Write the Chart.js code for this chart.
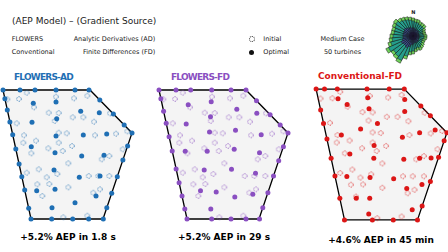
<!DOCTYPE html>
<html>
<head>
<meta charset="utf-8">
<script src="https://cdn.jsdelivr.net/npm/chart.js@4.4.1/dist/chart.umd.min.js"></script>
<style>
  html, body { margin: 0; padding: 0; background: #fff; }
  body { width: 448px; height: 252px; position: relative; overflow: hidden; font-family: 'DejaVu Sans', sans-serif; color: #1a1a1a; }
  .t { position: absolute; white-space: nowrap; }
  .hdr { font-size: 9px; line-height: 11px; }
  .sm { font-size: 6.5px; line-height: 8px; }
  .ttl { font-size: 9px; line-height: 11px; font-weight: bold; }
  .caps { letter-spacing: -0.8px; }
  .cap { font-size: 9px; line-height: 11px; font-weight: bold; color: #000; width: 160px; text-align: center; }
  .mid { width: 100px; text-align: center; }
  canvas { position: absolute; }
  .mk { position: absolute; border-radius: 50%; }
</style>
</head>
<body>
<div class="t hdr" style="left:12px;top:15.5px">(AEP Model) – (Gradient Source)</div>
<div class="t sm" style="left:11.7px;top:34.7px">FLOWERS</div>
<div class="t sm" style="right:292.7px;top:34.7px">Analytic Derivatives (AD)</div>
<div class="t sm" style="left:11.7px;top:48.3px">Conventional</div>
<div class="t sm" style="right:292.7px;top:48.3px">Finite Differences (FD)</div>
<div class="mk" style="left:248.7px;top:36px;width:4px;height:4px;border:1px dotted #333"></div>
<div class="mk" style="left:249.2px;top:50.2px;width:5px;height:5px;background:#111"></div>
<div class="t sm" style="left:263.3px;top:34.7px">Initial</div>
<div class="t sm" style="left:263.3px;top:48.3px">Optimal</div>
<div class="t sm mid" style="left:292.5px;top:34.7px">Medium Case</div>
<div class="t sm mid" style="left:292.5px;top:48.3px">50 turbines</div>
<div class="t" style="left:403.3px;top:9.3px;width:20px;text-align:center;font-size:5px;line-height:6px;font-weight:bold">N</div>

<div class="t ttl caps" style="left:14px;top:71.5px;color:#1f6fb4">FLOWERS-AD</div>
<div class="t ttl caps" style="left:171px;top:71.5px;color:#8a4fc1">FLOWERS-FD</div>
<div class="t ttl" style="left:318px;top:71.2px;color:#dc1616">Conventional-FD</div>

<canvas id="panelAD" width="145" height="145" style="left:-5px;top:81.7px"></canvas>
<canvas id="panelFD" width="145" height="145" style="left:151px;top:82px"></canvas>
<canvas id="panelConv" width="147" height="147" style="left:308px;top:81.2px"></canvas>
<canvas id="rose" width="70" height="70" style="left:377.7px;top:1px"></canvas>

<div class="t cap" style="left:-12px;top:232px">+5.2% AEP in 1.8 s</div>
<div class="t cap" style="left:144px;top:231.5px">+5.2% AEP in 29 s</div>
<div class="t cap" style="left:301px;top:234.5px">+4.6% AEP in 45 min</div>

<script>
// farm boundary (closed), same for every panel
var boundaryX = [0, 87, 129, 100, 28, 0];
var boundaryY = [0, 0, 43, 129, 129, 0];

// initial layout, shared by all three panels
var initialX = [4.3, 16, 23.7, 53, 71, 84.3, 31, 45.7, 55.7, 51.7, 69.7, 80.3, 91, 107, 13.7, 55.7, 63.7, 21, 92, 113, 124.3, 33, 20.3, 55.7, 69, 45.3, 59.7, 119.7, 28.3, 98.7, 106.3, 65.3, 23.7, 35.7, 54.3, 43.7, 85.7, 95.3, 106.3, 34.3, 46.3, 65.3, 39.3, 90.3, 97, 60.3, 84.3];
var initialY = [9.3, 9, 2.7, 6.7, 8.3, 5.7, 17.3, 22.7, 23, 31, 27.3, 27.3, 31.7, 23.3, 33.3, 42.7, 43.3, 45.3, 45.3, 43.7, 41.3, 50.7, 52.7, 52.7, 56, 58.3, 61, 59.3, 63.3, 69.3, 66, 73.3, 82.7, 79.3, 84, 87.3, 86, 86, 86, 94.3, 94, 97.3, 106, 102.7, 99.3, 127.3, 125.7];

// optimal layouts
var adX = [0, 17, 32, 53, 72, 86, 1.9, 4.3, 6.9, 9.7, 12.8, 16.1, 18.8, 21.7, 25.7, 28, 48.7, 69.7, 85.7, 100.3, 103.8, 108.7, 114.3, 119.9, 124.6, 129, 96.8, 110.4, 121.2, 30.3, 53, 77.7, 96.3, 53.7, 29, 80.3, 103.7, 53, 28.3, 52, 78.7, 101, 51, 76.3, 97, 52, 33.7, 93, 72, 49];
var adY = [0, 0, 0, 0, 0, 0, 8.7, 20, 32, 44.7, 59, 74, 86.7, 100, 118.3, 129, 129, 129, 129, 129, 117.7, 103.3, 86.7, 70, 56, 43, 10, 24, 35, 13.3, 12, 21.3, 22.7, 28.7, 32.3, 45, 44, 46, 56.7, 62.7, 66, 65.3, 80, 87.3, 86, 99.3, 100.7, 106, 112.7, 117.7];

var fdX = [0, 17, 31.7, 52.7, 72, 87, 1.9, 4.6, 7.2, 10.1, 13.2, 17.1, 20.1, 23, 25.8, 28, 52.7, 72, 87, 100.5, 103.8, 108.9, 114.5, 119.7, 124.4, 129, 97.5, 111.1, 121.2, 29.2, 52.2, 77.8, 97.8, 51.5, 27.2, 76.5, 50.5, 102.2, 26.2, 48.2, 75.2, 100.5, 45.2, 72.5, 96.5, 41.5, 57.2, 93.8, 75.8, 51.8];
var fdY = [0, 0, 0, 0, 0, 0, 8.7, 21.3, 33.3, 46.7, 61, 79, 92.7, 106, 119, 129, 129, 129, 129, 129, 117.7, 102.7, 86, 70.7, 56.7, 43, 10.7, 24.7, 35, 14.7, 11.7, 19.3, 23.3, 26.7, 34, 40.3, 42, 44.7, 61.3, 61.3, 59.3, 62.7, 80, 79.3, 83.3, 100.7, 102, 104.3, 107, 119];

var convX = [0, 8.3, 20.9, 50.2, 72.1, 87, 4.5, 7.3, 10.7, 14.8, 18.6, 23.4, 28, 55.5, 76.1, 100, 103.3, 112.7, 129, 126.3, 120.8, 112.7, 104.6, 21.6, 30.6, 50.9, 52.2, 87.4, 87.4, 60.5, 43.9, 24.9, 85.1, 102.1, 117.4, 57.2, 33.3, 56.9, 86.5, 102.1, 113.4, 30.3, 53.2, 76.5, 104.4, 89.4, 39.6, 52.9, 94.8, 51.9];
var convY = [0, 0, 0, 0, 0, 0, 20.7, 33.8, 49.2, 68.3, 85.7, 107.6, 129, 129, 129, 129, 16.7, 26.3, 43, 51, 67.3, 91.2, 115.2, 9.5, 15.1, 8.5, 19.4, 10.2, 22, 33.8, 39.4, 45.3, 47.6, 43, 40.4, 55.5, 64, 68.3, 69.3, 68.3, 67.9, 86.3, 87.3, 88.3, 94.2, 98.1, 107.6, 107.6, 119.1, 123.1];

// wind rose, 36 sectors from N clockwise (cumulative bands)
var roseDirections = ['0', '10', '20', '30', '40', '50', '60', '70', '80', '90', '100', '110', '120', '130', '140', '150', '160', '170', '180', '190', '200', '210', '220', '230', '240', '250', '260', '270', '280', '290', '300', '310', '320', '330', '340', '350'];
var roseCalm = [4, 4, 4, 4, 4, 4, 4, 4, 4, 4, 4, 4, 4, 4, 4, 4, 4, 4, 4, 4, 4, 4, 4, 4, 4, 4, 4, 4, 4, 4, 4, 4, 4, 4, 4, 4];
var roseInner = [8, 8, 7, 7, 7, 7, 6, 6, 6, 6, 6, 6, 6, 7, 7, 7, 7, 7, 8, 9, 11, 13, 12, 12, 13, 11, 10, 10, 10, 10, 10, 11, 10, 9, 9, 8];
var roseMid = [15, 14, 14, 13, 13, 13, 11, 10, 10, 11, 11, 10, 10, 11, 12, 13, 12, 13, 15, 16, 21, 27, 25, 24, 27, 23, 21, 20, 19, 19, 20, 21, 19, 18, 17, 16];
var roseOuter = [18, 17, 17, 16, 16, 16, 14, 13, 13, 14, 14, 13, 13, 14, 15, 16, 15, 16, 18, 19, 24, 30, 28, 27, 30, 26, 24, 23, 22, 22, 23, 24, 22, 21, 20, 19];

var LayoutFigure =
{
    init: function()
    {
        this.drawPanel('panelAD', '#1f6fb4', adX, adY);
        this.drawPanel('panelFD', '#8a4fc1', fdX, fdY);
        this.drawPanel('panelConv', '#dc1616', convX, convY);
        this.drawRose();
    },

    toPoints: function(xs, ys)
    {
        var pts = [];
        for (var i = 0; i < xs.length; i++) {
            pts.push({x: xs[i], y: ys[i]});
        }
        return pts;
    },

    //dashed hollow circle used for the initial turbines
    ringMarker: function(color)
    {
        var c = document.createElement('canvas');
        c.width = 8;
        c.height = 8;
        var ctx = c.getContext('2d');
        ctx.strokeStyle = color;
        ctx.globalAlpha = 0.8;
        ctx.lineWidth = 1;
        ctx.setLineDash([1.3, 1]);
        ctx.beginPath();
        ctx.arc(4, 4, 2.3, 0, Math.PI * 2);
        ctx.stroke();
        return c;
    },

    drawPanel: function(id, color, xs, ys)
    {
        new Chart(document.getElementById(id), {
            type: 'scatter',
            data: {
                datasets: [
                    {
                        type: 'line',
                        data: this.toPoints(boundaryX, boundaryY),
                        borderColor: '#000',
                        borderWidth: 1.3,
                        backgroundColor: '#f4f4f4',
                        fill: 'shape',
                        pointRadius: 0,
                        tension: 0,
                        order: 3,
                        clip: false
                    },
                    {
                        data: this.toPoints(initialX, initialY),
                        pointStyle: this.ringMarker(color),
                        order: 2,
                        clip: false
                    },
                    {
                        data: this.toPoints(xs, ys),
                        pointRadius: 2.5,
                        pointBackgroundColor: color,
                        pointBorderWidth: 0,
                        order: 1,
                        clip: false
                    }
                ]
            },
            options: {
                responsive: false,
                animation: false,
                events: [],
                layout: { autoPadding: false, padding: 0 },
                plugins: { legend: { display: false }, tooltip: { enabled: false } },
                scales: {
                    x: { display: false, min: -8, max: 137 },
                    y: { display: false, min: -8, max: 137, reverse: true }
                }
            }
        });
    },

    drawRose: function()
    {
        var edge = '#151515';
        new Chart(document.getElementById('rose'), {
            type: 'polarArea',
            data: {
                labels: roseDirections,
                datasets: [
                    { data: roseCalm, backgroundColor: '#1d1633', borderWidth: 0 },
                    { data: roseInner, backgroundColor: '#3b4c8a', borderColor: edge, borderWidth: 0.5 },
                    { data: roseMid, backgroundColor: '#259d8c', borderColor: edge, borderWidth: 0.5 },
                    { data: roseOuter, backgroundColor: '#6fd05a', borderColor: edge, borderWidth: 0.5 }
                ]
            },
            options: {
                responsive: false,
                animation: false,
                events: [],
                layout: { autoPadding: false, padding: 0 },
                plugins: { legend: { display: false }, tooltip: { enabled: false } },
                scales: { r: { display: false, min: 0, max: 35, startAngle: -5 } }
            }
        });
    }
}
LayoutFigure.init();
</script>
</body>
</html>
